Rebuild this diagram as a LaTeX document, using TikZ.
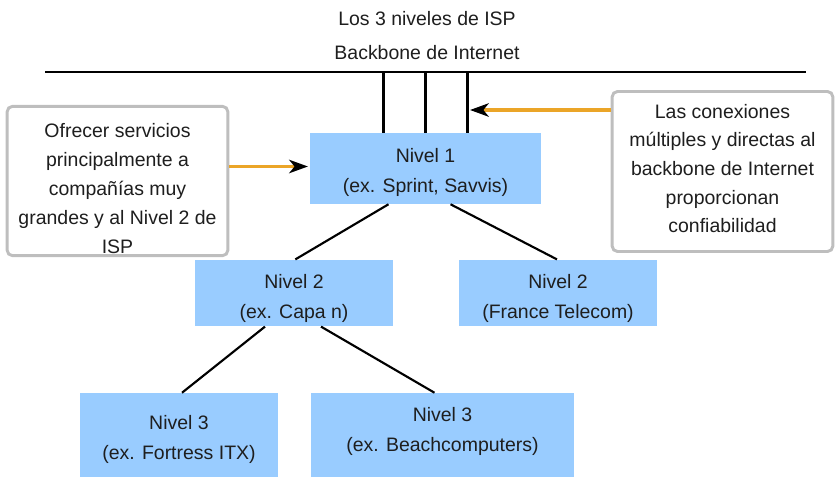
\documentclass[tikz,border=0pt]{standalone}
\usepackage{fontspec}
\usetikzlibrary{arrows.meta}
\setmainfont{Liberation Sans}
\definecolor{nivelblue}{RGB}{153,204,255}
\definecolor{notegray}{RGB}{190,190,190}
\definecolor{arroworange}{RGB}{235,165,40}
\definecolor{textgray}{RGB}{30,30,30}
\newcommand{\baja}[1]{\rule{0pt}{#1}}
\newcommand{\sube}[1]{\rule[-#1]{0pt}{#1}}
\tikzset{
  nivel/.style={fill=nivelblue, text=textgray, align=center, inner sep=0pt, font=\fontsize{14.6}{22.5}\selectfont},
  nota/.style={draw=notegray, line width=2.2pt, rounded corners=4pt, fill=white, text=textgray, align=center, inner sep=0pt, font=\fontsize{14.6}{21.6}\selectfont},
  titulo/.style={text=textgray, inner sep=0pt, font=\fontsize{14.6}{15}\selectfont},
  enlace/.style={black, line width=1.6pt},
  llamada/.style={arroworange, line width=2.4pt, -{Stealth[black,length=14pt,width=10pt,inset=4pt]}}
}
\begin{document}
\begin{tikzpicture}[x=.75pt,y=-.75pt]
  \useasboundingbox (0,0) rectangle (839,482);
  \node[titulo] (titulo) at (427,19) {Los 3 niveles de ISP};
  \node[titulo] (red) at (427,53) {Backbone de Internet};
  \coordinate (bbizq) at (45,72);
  \coordinate (bbder) at (806,72);
  \draw[enlace, line width=2pt] (bbizq) -- (bbder);

  \node[nivel, minimum width=173pt, minimum height=53.25pt] (n1) at (425.5,168.5) {\baja{17pt}Nivel 1\\(ex. Sprint, Savvis)};
  \node[nivel, minimum width=148.5pt, minimum height=50pt] (n2a) at (294,293) {\baja{19pt}Nivel 2\\(ex. Capa n)};
  \node[nivel, minimum width=148.5pt, minimum height=50pt] (n2b) at (558,293) {\baja{19pt}Nivel 2\\(France Telecom)};
  \node[nivel, minimum width=148.5pt, minimum height=63pt] (n3a) at (179,435) {\baja{17.5pt}Nivel 3\\(ex. Fortress ITX)};
  \node[nivel, minimum width=197pt, minimum height=63pt] (n3b) at (442.5,435) {Nivel 3\\(ex. Beachcomputers)\sube{7.6pt}};

  \node[nota, minimum width=165.5pt, minimum height=112pt] (izq) at (117.5,181) {\baja{22pt}Ofrecer servicios\\principalmente a\\compañías muy\\grandes y al Nivel 2 de\\ISP};
  \node[nota, minimum width=165.5pt, minimum height=120pt, font=\fontsize{14.6}{21.4}\selectfont] (der) at (722.5,171.5) {Las conexiones\\múltiples y directas al\\backbone de Internet\\proporcionan\\confiabilidad\sube{4.6pt}};

  \foreach \pos in {-42,0,42}
    \draw[enlace] ([xshift=\pos*.75pt]n1.north) -- ([xshift=\pos*.75pt]n1.north |- bbizq);

  \draw[enlace] ([xshift=-37pt*.75]n1.south) -- ([xshift=1pt]n2a.north);
  \draw[enlace] ([xshift=25pt*.75]n1.south) -- ([xshift=-1pt*.75]n2b.north);
  \draw[enlace] ([xshift=-29pt*.75]n2a.south) -- ([xshift=3pt*.75]n3a.north);
  \draw[enlace] ([xshift=27pt*.75]n2a.south) -- ([xshift=-8pt*.75]n3b.north);

  % flechas
  \coordinate (finder) at (470,110);
  \draw[llamada, shorten >=1.5pt] (izq.east |- 0,166.5) -- (n1.west |- 0,166.5);
  \draw[llamada] (der.west |- finder) -- (finder);
\end{tikzpicture}
\end{document}
